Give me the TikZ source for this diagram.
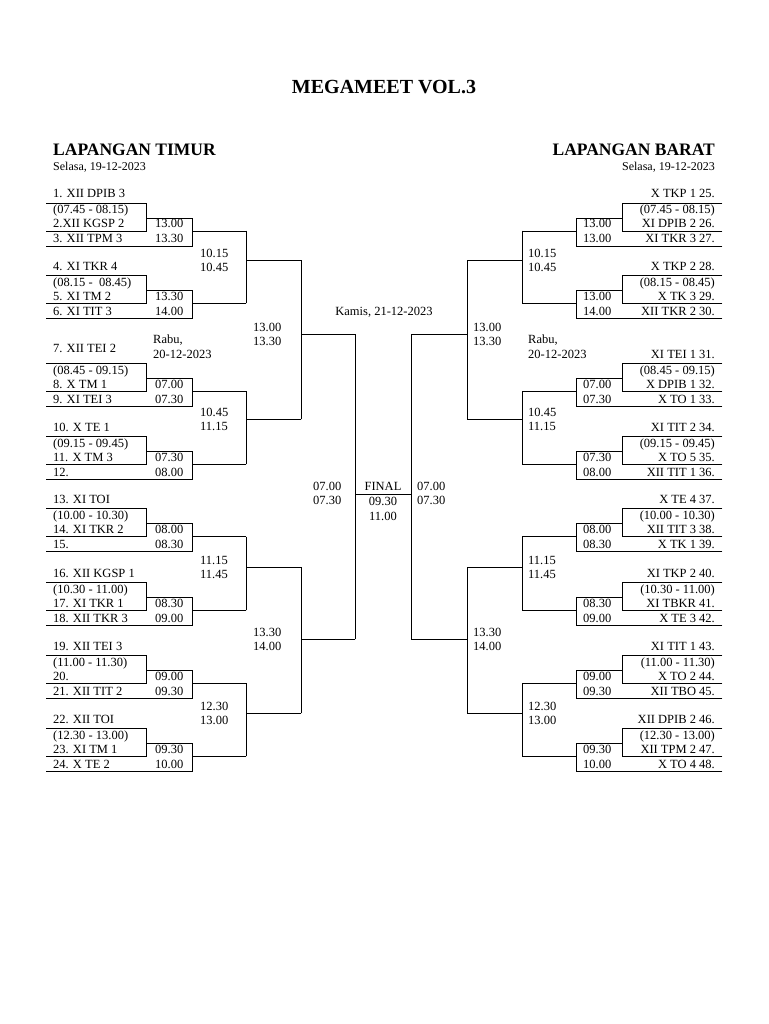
\documentclass[tikz,border=0pt]{standalone}
\usepackage{fontspec}
\setmainfont{Liberation Serif}
\tikzset{
  tx/.style={inner sep=0pt,font=\fontsize{12.5}{15}\selectfont},
  txl/.style={tx,anchor=base west},
  txr/.style={tx,anchor=base east},
  txc/.style={tx,anchor=base},
  ln/.style={line width=0.9pt,line cap=rect}
}
% left group: t, name-offset, n1, time, n2, n3, l1, l2
\newcommand\grpL[8]{%
  \draw[ln] (46,#1)--(146,#1)--(146,#1+28)--(46,#1+28);
  \draw[ln] (146,#1+15)--(192,#1+15)--(192,#1+43)--(46,#1+43);
  \draw[ln] (192,#1+28)--(246,#1+28);
  \node[txl] at (53,#1-5-#2) {#3};
  \node[txl] at (53,#1+11) {#4};
  \node[txl] at (53,#1+25) {#5};
  \node[txl] at (53,#1+40) {#6};
  \node[txl] at (155,#1+25) {#7};
  \node[txl] at (155,#1+40) {#8};
}
\newcommand\grpR[8]{%
  \draw[ln] (722,#1)--(622,#1)--(622,#1+28)--(722,#1+28);
  \draw[ln] (622,#1+15)--(576,#1+15)--(576,#1+43)--(722,#1+43);
  \draw[ln] (576,#1+28)--(522,#1+28);
  \node[txr] at (715,#1-5-#2) {#3};
  \node[txr] at (715,#1+11) {#4};
  \node[txr] at (715,#1+25) {#5};
  \node[txr] at (715,#1+40) {#6};
  \node[txl] at (583,#1+25) {#7};
  \node[txl] at (583,#1+40) {#8};
}
\begin{document}
\begin{tikzpicture}[x=1pt,y=-1pt]
\useasboundingbox (0,0) rectangle (768,1024);
\fill[white] (0,0) rectangle (768,1024);
\node[tx,anchor=base,font=\fontsize{20}{24}\bfseries] (title) at (384,94) {MEGAMEET VOL.3};
\node[txl,font=\fontsize{17.5}{20}\bfseries] (lt) at (53,156) {LAPANGAN TIMUR};
\node[txr,font=\fontsize{17.5}{20}\bfseries] (lb) at (715,156) {LAPANGAN BARAT};
\node[txl,font=\fontsize{12}{14}\selectfont] (sl) at (53,171) {Selasa, 19-12-2023};
\node[txr,font=\fontsize{12}{14}\selectfont] (sr) at (715,171) {Selasa, 19-12-2023};
\node[txc] (kamis) at (384,315) {Kamis, 21-12-2023};
\node[txl] (rl1) at (153,343) {Rabu,};
\node[txl] (rl2) at (153,358) {20-12-2023};
\node[txl] (rr1) at (528,343) {Rabu,};
\node[txl] (rr2) at (528,358) {20-12-2023};

\grpL{203}{0}{1. XII DPIB 3}{(07.45 - 08.15)}{2.XII KGSP 2}{3. XII TPM 3}{13.00}{13.30}
\grpL{275}{0}{4. XI TKR 4}{(08.15 -\ \ 08.45)}{5. XI TM 2}{6. XI TIT 3}{13.30}{14.00}
\grpL{363}{6}{7. XII TEI 2}{(08.45 - 09.15)}{8. X TM 1}{9. XI TEI 3}{07.00}{07.30}
\grpL{436}{0}{10. X TE 1}{(09.15 - 09.45)}{11. X TM 3}{12.}{07.30}{08.00}
\grpL{508}{0}{13. XI TOI}{(10.00 - 10.30)}{14. XI TKR 2}{15.}{08.00}{08.30}
\grpL{582}{0}{16. XII KGSP 1}{(10.30 - 11.00)}{17. XI TKR 1}{18. XII TKR 3}{08.30}{09.00}
\grpL{655}{0}{19. XII TEI 3}{(11.00 - 11.30)}{20.}{21. XII TIT 2}{09.00}{09.30}
\grpL{728}{0}{22. XII TOI}{(12.30 - 13.00)}{23. XI TM 1}{24. X TE 2}{09.30}{10.00}

\grpR{203}{0}{X TKP 1 25.}{(07.45 - 08.15)}{XI DPIB 2 26.}{XI TKR 3 27.}{13.00}{13.00}
\grpR{275}{0}{X TKP 2 28.}{(08.15 - 08.45)}{X TK 3 29.}{XII TKR 2 30.}{13.00}{14.00}
\grpR{363}{0}{XI TEI 1 31.}{(08.45 - 09.15)}{X DPIB 1 32.}{X TO 1 33.}{07.00}{07.30}
\grpR{436}{0}{XI TIT 2 34.}{(09.15 - 09.45)}{X TO 5 35.}{XII TIT 1 36.}{07.30}{08.00}
\grpR{508}{0}{X TE 4 37.}{(10.00 - 10.30)}{XII TIT 3 38.}{X TK 1 39.}{08.00}{08.30}
\grpR{582}{0}{XI TKP 2 40.}{(10.30 - 11.00)}{XI TBKR 41.}{X TE 3 42.}{08.30}{09.00}
\grpR{655}{0}{XI TIT 1 43.}{(11.00 - 11.30)}{X TO 2 44.}{XII TBO 45.}{09.00}{09.30}
\grpR{728}{0}{XII DPIB 2 46.}{(12.30 - 13.00)}{XII TPM 2 47.}{X TO 4 48.}{09.30}{10.00}

% round 2 left
\draw[ln] (246,231)--(246,303); \draw[ln] (246,260)--(301,260);
\draw[ln] (246,391)--(246,464); \draw[ln] (246,419)--(301,419);
\draw[ln] (246,537)--(246,610); \draw[ln] (246,567)--(301,567);
\draw[ln] (246,683)--(246,756); \draw[ln] (246,713)--(301,713);
% round 3 left
\draw[ln] (301,260)--(301,419); \draw[ln] (301,334)--(355,334);
\draw[ln] (301,567)--(301,713); \draw[ln] (301,639)--(355,639);
% round 2 right
\draw[ln] (522,231)--(522,303); \draw[ln] (522,260)--(467,260);
\draw[ln] (522,391)--(522,464); \draw[ln] (522,419)--(467,419);
\draw[ln] (522,537)--(522,610); \draw[ln] (522,567)--(467,567);
\draw[ln] (522,683)--(522,756); \draw[ln] (522,713)--(467,713);
% round 3 right
\draw[ln] (467,260)--(467,419); \draw[ln] (467,334)--(411,334);
\draw[ln] (467,567)--(467,713); \draw[ln] (467,639)--(411,639);
% final
\draw[ln] (355,334)--(355,639); \draw[ln] (411,334)--(411,639);
\draw[ln] (355,494)--(411,494);

\foreach \x/\y/\a/\b in {200/260/10.15/10.45, 200/419/10.45/11.15, 200/567/11.15/11.45, 200/713/12.30/13.00,
  253/334/13.00/13.30, 253/639/13.30/14.00,
  528/260/10.15/10.45, 528/419/10.45/11.15, 528/567/11.15/11.45, 528/713/12.30/13.00,
  473/334/13.00/13.30, 473/639/13.30/14.00, 313/493/07.00/07.30, 417/493/07.00/07.30}{
  \node[txl] at (\x,\y-3) {\a};
  \node[txl] at (\x,\y+11) {\b};
}
\node[txc] (fin) at (383,490) {FINAL};
\node[txc] (f1) at (383,505) {09.30};
\node[txc] (f2) at (383,520) {11.00};
\end{tikzpicture}
\end{document}
